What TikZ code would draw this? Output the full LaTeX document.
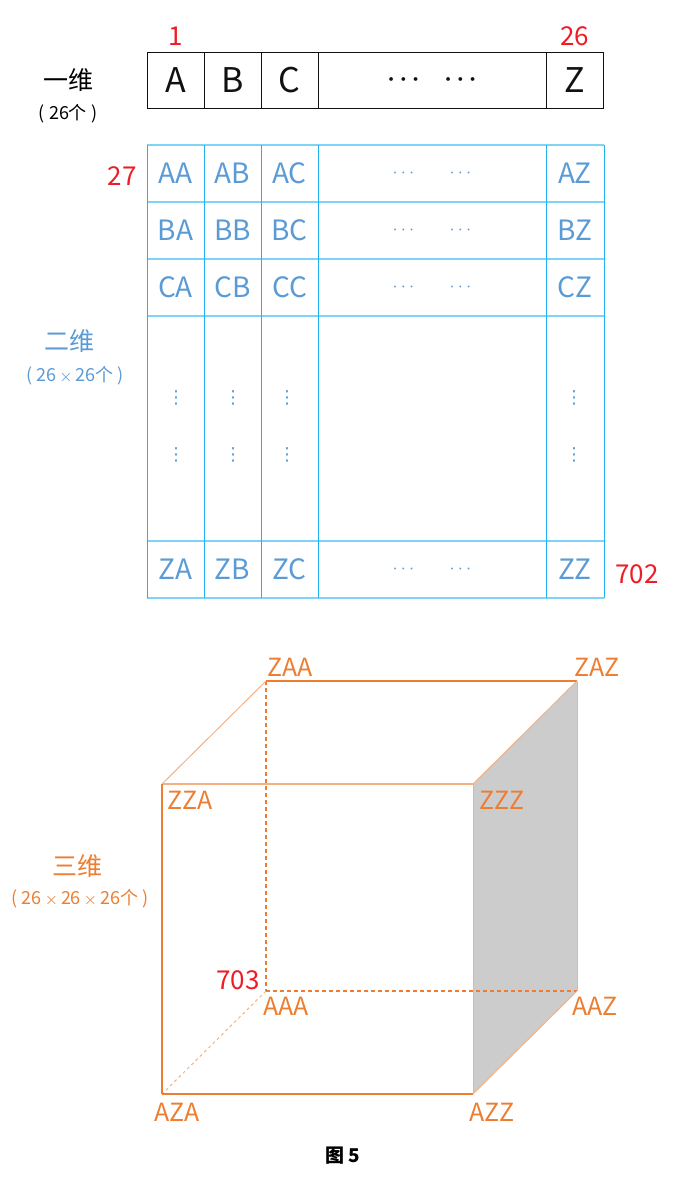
\documentclass[tikz,border=0pt]{standalone}
\usepackage{fontspec}
\setmainfont{Noto Sans CJK SC}
\newfontfamily\symfont{DejaVu Sans}
\usetikzlibrary{positioning, calc}
\definecolor{inkblack}{HTML}{111111}
\definecolor{gridblue}{HTML}{1FB2EE}
\definecolor{gridlight}{HTML}{7ED3F7}
\definecolor{textblue}{HTML}{5B9BD5}
\definecolor{numred}{HTML}{EE1C25}
\definecolor{cubeorange}{HTML}{ED7D31}
\definecolor{cubelight}{HTML}{F4B183}
\definecolor{facegray}{HTML}{CCCCCC}
\newcommand{\dotpair}{\makebox[28.5pt]{$\cdots$}\makebox[28.5pt]{$\cdots$}}
\newcommand{\smalltimes}{\,{\fontsize{8}{8}\selectfont$\times$}\,}
\tikzset{
  onecell/.style={draw=inkblack, line width=0.5pt, inner sep=0pt, outer sep=0pt,
                  minimum width=28.5pt, minimum height=28pt,
                  font=\fontsize{17}{17}\selectfont, text=inkblack},
  twolbl/.style={inner sep=0pt, font=\fontsize{14}{14}\selectfont, text=textblue},
  twodots/.style={inner sep=0pt, font=\fontsize{9}{9}\selectfont, text=textblue},
  vdot/.style={inner sep=0pt, font=\symfont\fontsize{9}{9}\selectfont, text=textblue},
  idx/.style={inner sep=0pt, font=\fontsize{13}{13}\selectfont, text=numred},
  dimtitle/.style={inner sep=0pt, font=\fontsize{12.5}{12.5}\selectfont},
  dimnote/.style={inner sep=0pt, font=\fontsize{9}{9}\selectfont},
  gridh/.style={draw=gridlight, line width=1pt},
  gridv/.style={draw=gridblue, line width=0.5pt},
  edge/.style={draw=cubeorange, line width=0.6pt},
  edgelight/.style={draw=cubelight, line width=0.5pt},
  hidden/.style={draw=cubeorange, line width=0.6pt, dash pattern=on 2pt off 1.5pt},
  cornerlbl/.style={inner sep=0pt, font=\fontsize{12.5}{12.5}\selectfont, text=cubeorange},
  caption/.style={inner sep=0pt, font=\fontsize{9.5}{9.5}\selectfont\bfseries},
}
\begin{document}
\begin{tikzpicture}[x=0.5pt, y=-0.5pt]
  \useasboundingbox (0,0) rectangle (688,1179);

  % ── one dimension ────────────────────────────────────────────────────────
  \node[dimtitle] (t1) at (68,80)  {一维};
  \node[dimnote]  (n1) at (68,114) {(\ 26个\ )};

  \node[onecell] (a) at (175.5,80) {A};
  \node[onecell, right=0pt of a] (b) {B};
  \node[onecell, right=0pt of b] (c) {C};
  \node[onecell, right=0pt of c, minimum width=114pt,
        font=\fontsize{13}{13}\selectfont\boldmath] (cdots) {\dotpair};
  \node[onecell, right=0pt of cdots] (z) {Z};

  \node[idx, above=3pt of a] (i1)  {1};
  \node[idx, above=3pt of z] (i26) {26};

  % ── two dimensions ───────────────────────────────────────────────────────
  \node[dimtitle, text=textblue] (t2) at (70,341) {二维};
  \node[dimnote, text=textblue]  (n2) at (75,376) {(\ 26\smalltimes 26个\ )};

  \foreach \y in {145,202,259,316,541,598}
    \draw[gridh] (147,\y) -- (604,\y);
  \foreach \x in {147,204,261,318,546,604}
    \draw[gridv] (\x,145) -- (\x,598);

  \foreach \r/\y in {A/173.5, B/230.5, C/287.5, Z/569.5} {
    \node[twolbl] (\r A) at (175.5,\y) {\r A};
    \node[twolbl] (\r B) at (232.5,\y) {\r B};
    \node[twolbl] (\r C) at (289.5,\y) {\r C};
    \node[twodots] (\r dots) at (432,\y) {\dotpair};
    \node[twolbl] (\r Z) at (575,\y) {\r Z};
  }
  \foreach \x in {176,233,287,574}
    \foreach \y in {398,455}
      \node[vdot] (vd-\x-\y) at (\x,\y) {⋮};

  \node[idx] (i27)  at (122,176) {27};
  \node[idx] (i702) at (637,574) {702};

  % ── three dimensions ─────────────────────────────────────────────────────
  \node[dimtitle, text=cubeorange] (t3) at (78,866) {三维};
  \node[dimnote, text=cubeorange]  (n3) at (80,899) {(\ 26\smalltimes 26\smalltimes 26个\ )};

  \coordinate (zaa) at (266,681);
  \coordinate (zaz) at (577,681);
  \coordinate (zza) at (162,784);
  \coordinate (zzz) at (473,784);
  \coordinate (aaa) at (266,991);
  \coordinate (aaz) at (577,991);
  \coordinate (aza) at (162,1094);
  \coordinate (azz) at (473,1094);

  % right face
  \fill[facegray] (zzz) -- (zaz) -- (aaz) -- (azz) -- cycle;

  % hidden edges
  \draw[hidden] (zaa) -- (aaa);
  \draw[hidden] (aaa) -- (aaz);
  \draw[hidden, draw=cubelight, line width=0.5pt, dash pattern=on 1.5pt off 1.5pt] (aaa) -- (aza);

  % visible edges
  \draw[edge] (zaa) -- (zaz);
  \draw[edgelight] (zza) -- (zaa);
  \draw[edgelight] (zzz) -- (zaz);
  \draw[edgelight] (zaz) -- (aaz);
  \draw[edgelight] (azz) -- (aaz);
  \draw[edgelight, line width=1pt] (zza) -- (zzz);
  \draw[edgelight] (zzz) -- (azz);
  \draw[edge] (zza) -- (aza);
  \draw[edge] (aza) -- (azz);

  \node[cornerlbl] (lzaa) at (290,667)  {ZAA};
  \node[cornerlbl] (lzaz) at (597,667)  {ZAZ};
  \node[cornerlbl] (lzza) at (190,800)  {ZZA};
  \node[cornerlbl] (lzzz) at (502,800)  {ZZZ};
  \node[cornerlbl] (laaa) at (286,1006) {AAA};
  \node[cornerlbl] (laaz) at (595,1006) {AAZ};
  \node[cornerlbl] (laza) at (177,1112) {AZA};
  \node[cornerlbl] (lazz) at (492,1112) {AZZ};
  \node[idx] (i703) at (238,980) {703};

  % ── caption ──────────────────────────────────────────────────────────────
  \node[caption] (fig) at (343,1156) {图 5};

\end{tikzpicture}
\end{document}
